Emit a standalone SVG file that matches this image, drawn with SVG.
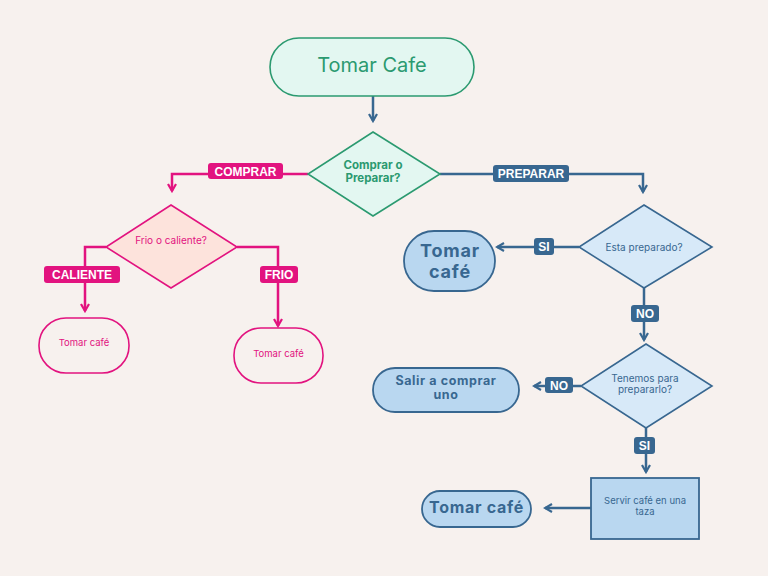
<svg xmlns="http://www.w3.org/2000/svg" width="768" height="576" viewBox="0 0 768 576">
<defs>
<marker id="ab" viewBox="0 0 10 10" refX="8" refY="5" markerWidth="4" markerHeight="4" markerUnits="strokeWidth" orient="auto"><path d="M1,1 L8,5 L1,9" fill="none" stroke="#386790" stroke-width="2.2"/></marker>
<marker id="ap" viewBox="0 0 10 10" refX="8" refY="5" markerWidth="4" markerHeight="4" markerUnits="strokeWidth" orient="auto"><path d="M1,1 L8,5 L1,9" fill="none" stroke="#e2137f" stroke-width="2.2"/></marker>
<style>
.cb{fill:none;stroke:#386790;stroke-width:2.5}
.cp{fill:none;stroke:#e2137f;stroke-width:2.5}
.lb{fill:#386790}
.lp{fill:#e2137f}
.lt{font-family:"Liberation Sans",Arial,sans-serif;font-weight:bold;font-size:12px;fill:#ffffff;text-anchor:middle}
.g{fill:#e3f7f1;stroke:#2b9a70;stroke-width:1.6}
.p{fill:#f7f1ee;stroke:#e2137f;stroke-width:1.6}
.pd{fill:#fde3dc;stroke:#e2137f;stroke-width:1.6}
.b{fill:#b9d7f0;stroke:#386790;stroke-width:1.8}
.bd{fill:#d7e9f8;stroke:#386790;stroke-width:1.6}
.t{font-family:Inter,"Noto Sans",sans-serif;text-anchor:middle}
</style>
</defs>
<rect width="768" height="576" fill="#f7f1ee"/>
<g id="connectors">
<path class="cb" d="M373,96 V121" marker-end="url(#ab)"/>
<path class="cp" d="M308,174 H172 V191" marker-end="url(#ap)"/>
<path class="cb" d="M440,174 H643 V192" marker-end="url(#ab)"/>
<path class="cp" d="M106,247 H85 V311" marker-end="url(#ap)"/>
<path class="cp" d="M237,247 H278 V326" marker-end="url(#ap)"/>
<path class="cb" d="M579,247 H497" marker-end="url(#ab)"/>
<path class="cb" d="M644,288 V340" marker-end="url(#ab)"/>
<path class="cb" d="M581,386 H534" marker-end="url(#ab)"/>
<path class="cb" d="M646,428 V472" marker-end="url(#ab)"/>
<path class="cb" d="M591,508 H545" marker-end="url(#ab)"/>
<rect class="lp" x="208" y="163" width="75" height="16" rx="3"/>
<text class="lt" x="245.5" y="175.5">COMPRAR</text>
<rect class="lb" x="493" y="165" width="76" height="17" rx="3"/>
<text class="lt" x="531" y="178">PREPARAR</text>
<rect class="lp" x="44" y="266" width="76" height="17" rx="3"/>
<text class="lt" x="82" y="279" font-size="13">CALIENTE</text>
<rect class="lp" x="260" y="266" width="38" height="17" rx="3"/>
<text class="lt" x="279" y="279" font-size="13">FRIO</text>
<rect class="lb" x="534" y="238" width="20" height="17" rx="3"/>
<text class="lt" x="544" y="251">SI</text>
<rect class="lb" x="631" y="305" width="28" height="17" rx="3"/>
<text class="lt" x="645" y="318">NO</text>
<rect class="lb" x="545" y="377" width="28" height="16" rx="3"/>
<text class="lt" x="559" y="389.5">NO</text>
<rect class="lb" x="634" y="437" width="21" height="17" rx="3"/>
<text class="lt" x="644.5" y="450">SI</text>
</g>
<g id="start">
<rect class="g" x="270" y="38" width="204" height="58" rx="29"/>
<text class="t" x="372" y="72" font-size="20" fill="#2b9a70">Tomar Cafe</text>
</g>
<g id="d-comprar">
<polygon class="g" points="373,132 440,174 373,216 308,174"/>
<text class="t" x="373" y="169" font-size="11.5" font-weight="bold" fill="#2b9a70">Comprar o</text>
<text class="t" x="373" y="182" font-size="11.5" font-weight="bold" fill="#2b9a70">Preparar?</text>
</g>
<g id="d-frio">
<polygon class="pd" points="171,205 237,247 171,288 106,247"/>
<text class="t" x="171" y="244" font-size="10" fill="#e2137f">Frio o caliente?</text>
</g>
<g id="n-caliente">
<rect class="p" x="39" y="318" width="90" height="55" rx="27"/>
<text class="t" x="84" y="346" font-size="9.5" fill="#e2137f">Tomar café</text>
</g>
<g id="n-frio">
<rect class="p" x="234" y="328" width="89" height="55" rx="27"/>
<text class="t" x="278.5" y="357" font-size="9.5" fill="#e2137f">Tomar café</text>
</g>
<g id="d-preparado">
<polygon class="bd" points="644,205 712,247 644,288 579,247"/>
<text class="t" x="644" y="251" font-size="10" fill="#386790">Esta preparado?</text>
</g>
<g id="n-tomar1">
<rect class="b" x="404" y="231" width="91" height="60" rx="30"/>
<text class="t" x="450" y="257" font-size="18" font-weight="bold" fill="#386790" letter-spacing="0.8">Tomar</text>
<text class="t" x="450" y="278" font-size="18" font-weight="bold" fill="#386790" letter-spacing="0.8">café</text>
</g>
<g id="d-tenemos">
<polygon class="bd" points="646,344 712,386 646,428 581,386"/>
<text class="t" x="645" y="382" font-size="10" fill="#386790">Tenemos para</text>
<text class="t" x="645" y="393" font-size="10" fill="#386790">prepararlo?</text>
</g>
<g id="n-salir">
<rect class="b" x="373" y="368" width="146" height="44" rx="22"/>
<text class="t" x="446" y="385" font-size="12.5" font-weight="bold" fill="#386790" letter-spacing="0.6">Salir a comprar</text>
<text class="t" x="446" y="399" font-size="12.5" font-weight="bold" fill="#386790" letter-spacing="0.6">uno</text>
</g>
<g id="n-servir">
<rect class="b" x="591" y="478" width="108" height="61"/>
<text class="t" x="645" y="504" font-size="9.5" fill="#386790">Servir café en una</text>
<text class="t" x="645" y="515" font-size="9.5" fill="#386790">taza</text>
</g>
<g id="n-tomar2">
<rect class="b" x="422" y="491" width="109" height="36" rx="18"/>
<text class="t" x="476.5" y="513" font-size="16" font-weight="bold" fill="#386790" letter-spacing="0.7">Tomar café</text>
</g>
</svg>
